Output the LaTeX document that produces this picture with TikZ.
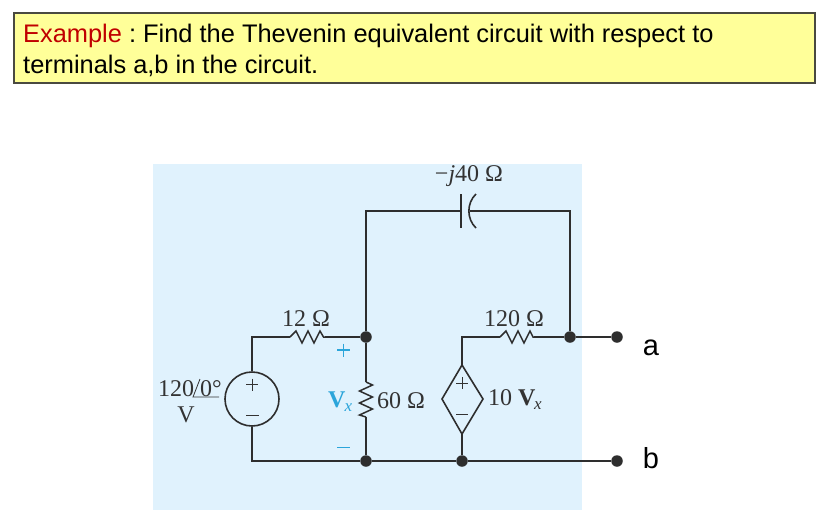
\documentclass[tikz,border=0pt]{standalone}
\usepackage{fontspec}
\setmainfont{Liberation Serif}
\newfontfamily\titlefont{Liberation Sans}
\frenchspacing
\definecolor{panelblue}{HTML}{E0F2FD}
\definecolor{titlefill}{HTML}{FFFF99}
\definecolor{titleedge}{HTML}{4A4A40}
\definecolor{examplered}{HTML}{C00000}
\definecolor{vblue}{HTML}{2BA5DA}
\definecolor{wirecol}{HTML}{2E2E2E}
\definecolor{labcol}{HTML}{333333}
\tikzset{
  x=1pt,y=-1pt,
  wire/.style={draw=wirecol,line width=1.5pt,line join=miter},
  dotnode/.style={circle,fill=wirecol,inner sep=0pt,minimum size=11.5pt},
  srcnode/.style={circle,draw=wirecol,line width=1.6pt,minimum size=54pt,inner sep=0pt},
  depnode/.style={draw=wirecol,line width=1.6pt},
  lab/.style={font=\fontsize{24}{26}\selectfont,text=labcol,inner sep=0pt},
  titletext/.style={font=\titlefont\fontsize{25.4}{33}\selectfont,text=black,inner sep=0pt,anchor=base west},
  sign/.style={draw=labcol,line width=0.9pt},
  bluesign/.style={draw=vblue,line width=1.1pt},
}
\begin{document}
\begin{tikzpicture}
\useasboundingbox (0,0) rectangle (838,512);
\fill[white] (0,0) rectangle (838,512);
% title box
\draw[fill=titlefill,draw=titleedge,line width=1.2pt] (14,13) rectangle (815,83);
\node[titletext] (t1) at (23,42) {\textcolor{examplered}{Example} : Find the Thevenin equivalent circuit with respect to};
\node[titletext] (t2) at (23,73) {terminals a,b in the circuit.};
% panel
\fill[panelblue] (153,164) rectangle (582,510);
% nodes
\coordinate (tl) at (252,337);
\node[dotnode] (n1) at (366,337) {};
\node[dotnode] (n2) at (570,337) {};
\node[dotnode] (ta) at (617,337) {};
\node[dotnode] (n3) at (366,461) {};
\node[dotnode] (n4) at (462,461) {};
\node[dotnode] (tb) at (617,461) {};
\coordinate (bl) at (252,461);
\coordinate (ct) at (366,211);
\coordinate (cr) at (570,211);
\coordinate (dt) at (462,337);
\node[srcnode] (src) at (252,399) {};
\coordinate (dT) at (462,365);
\coordinate (dB) at (462,434);
\coordinate (dL) at (442,399);
\coordinate (dR) at (483,399);
\coordinate (capL) at (461,211);
\coordinate (capR) at (470,211);
\coordinate (r1a) at (290,337);
\coordinate (r1b) at (325,337);
\coordinate (r2a) at (500,337);
\coordinate (r2b) at (534,337);
\coordinate (r3a) at (366,382);
\coordinate (r3b) at (366,417);
% wires
\draw[wire] (src.north) -- (tl) -- (r1a);
\draw[wire] (r1a) -- ++(6,-6) -- ++(6,12) -- ++(6,-12) -- ++(6,12) -- ++(6,-12) -- ++(3.5,6) -- (r1b);
\draw[wire] (r1b) -- (n1);
\draw[wire] (n1) -- (r3a);
\draw[wire] (r3a) -- ++(6.5,3) -- ++(-13,6) -- ++(13,6) -- ++(-13,6) -- ++(13,6) -- ++(-13,6) -- ++(6.5,2) -- (r3b);
\draw[wire] (r3b) -- (n3);
\draw[wire] (src.south) -- (bl) -- (n3);
\draw[wire] (n3) -- (n4);
\draw[wire] (n4) -- (tb);
\draw[wire] (n1) -- (ct) -- (capL);
\draw[wire] (capR) -- (cr) -- (n2);
\draw[wire] (n2) -- (ta);
\draw[wire] (dT) -- (dt) -- (r2a);
\draw[wire] (r2a) -- ++(6,-6) -- ++(6,12) -- ++(6,-12) -- ++(6,12) -- ++(6,-12) -- ++(3,6) -- (r2b);
\draw[wire] (r2b) -- (n2);
\draw[wire] (dB) -- (n4);
\draw[depnode] (dT) -- (dR) -- (dB) -- (dL) -- cycle;
% capacitor
\draw[wire,line width=1.6pt] (461,194) -- (461,228);
\draw[wire,line width=1.6pt] (476,194) .. controls (466.5,203) and (466.5,219) .. (476,228);
% source signs
\draw[sign] (246,384.5) -- (258,384.5) (252,378.5) -- (252,390.5);
\draw[sign] (246,415) -- (259,415);
\draw[sign] (456,383) -- (468,383) (462,377) -- (462,389);
\draw[sign] (456,414.5) -- (468,414.5);
% Vx signs
\draw[bluesign] (337,350) -- (350,350) (343.5,343.5) -- (343.5,356.5);
\draw[bluesign,line width=0.9pt] (337,447) -- (350,447);
% labels
\node[lab] (l12) at (306,319) {12 \char"03A9};
\node[lab] (l120) at (514,319) {120 \char"03A9};
\node[lab] (l60) at (401,401) {60 \char"03A9};
\node[lab] (lcap) at (469,176) {\char"2212\textit{j}40 \char"03A9};
\node[lab,anchor=base west] (lv) at (158,396) {120};
\node[lab,anchor=base west] (lv0) at (200,396) {0°};
\node[lab] (lv2) at (186,415) {V};
\draw[draw=labcol,line width=0.8pt] (219,397) -- (193,397) -- (200,379);
\node[lab,anchor=base west,text=vblue] (vx) at (328,407) {\textbf{V}\kern-1pt\textit{\fontsize{17}{17}\selectfont\raisebox{-4pt}{x}}};
\node[lab,anchor=base west] (dep) at (488,405) {10 \textbf{V}\kern-1.5pt\textit{\fontsize{17}{17}\selectfont\raisebox{-4pt}{x}}};
\node[font=\titlefont\fontsize{29}{30}\selectfont,inner sep=0pt,anchor=base] (la) at (651,355) {a};
\node[font=\titlefont\fontsize{29}{30}\selectfont,inner sep=0pt,anchor=base] (lb) at (651,468) {b};
\end{tikzpicture}
\end{document}
